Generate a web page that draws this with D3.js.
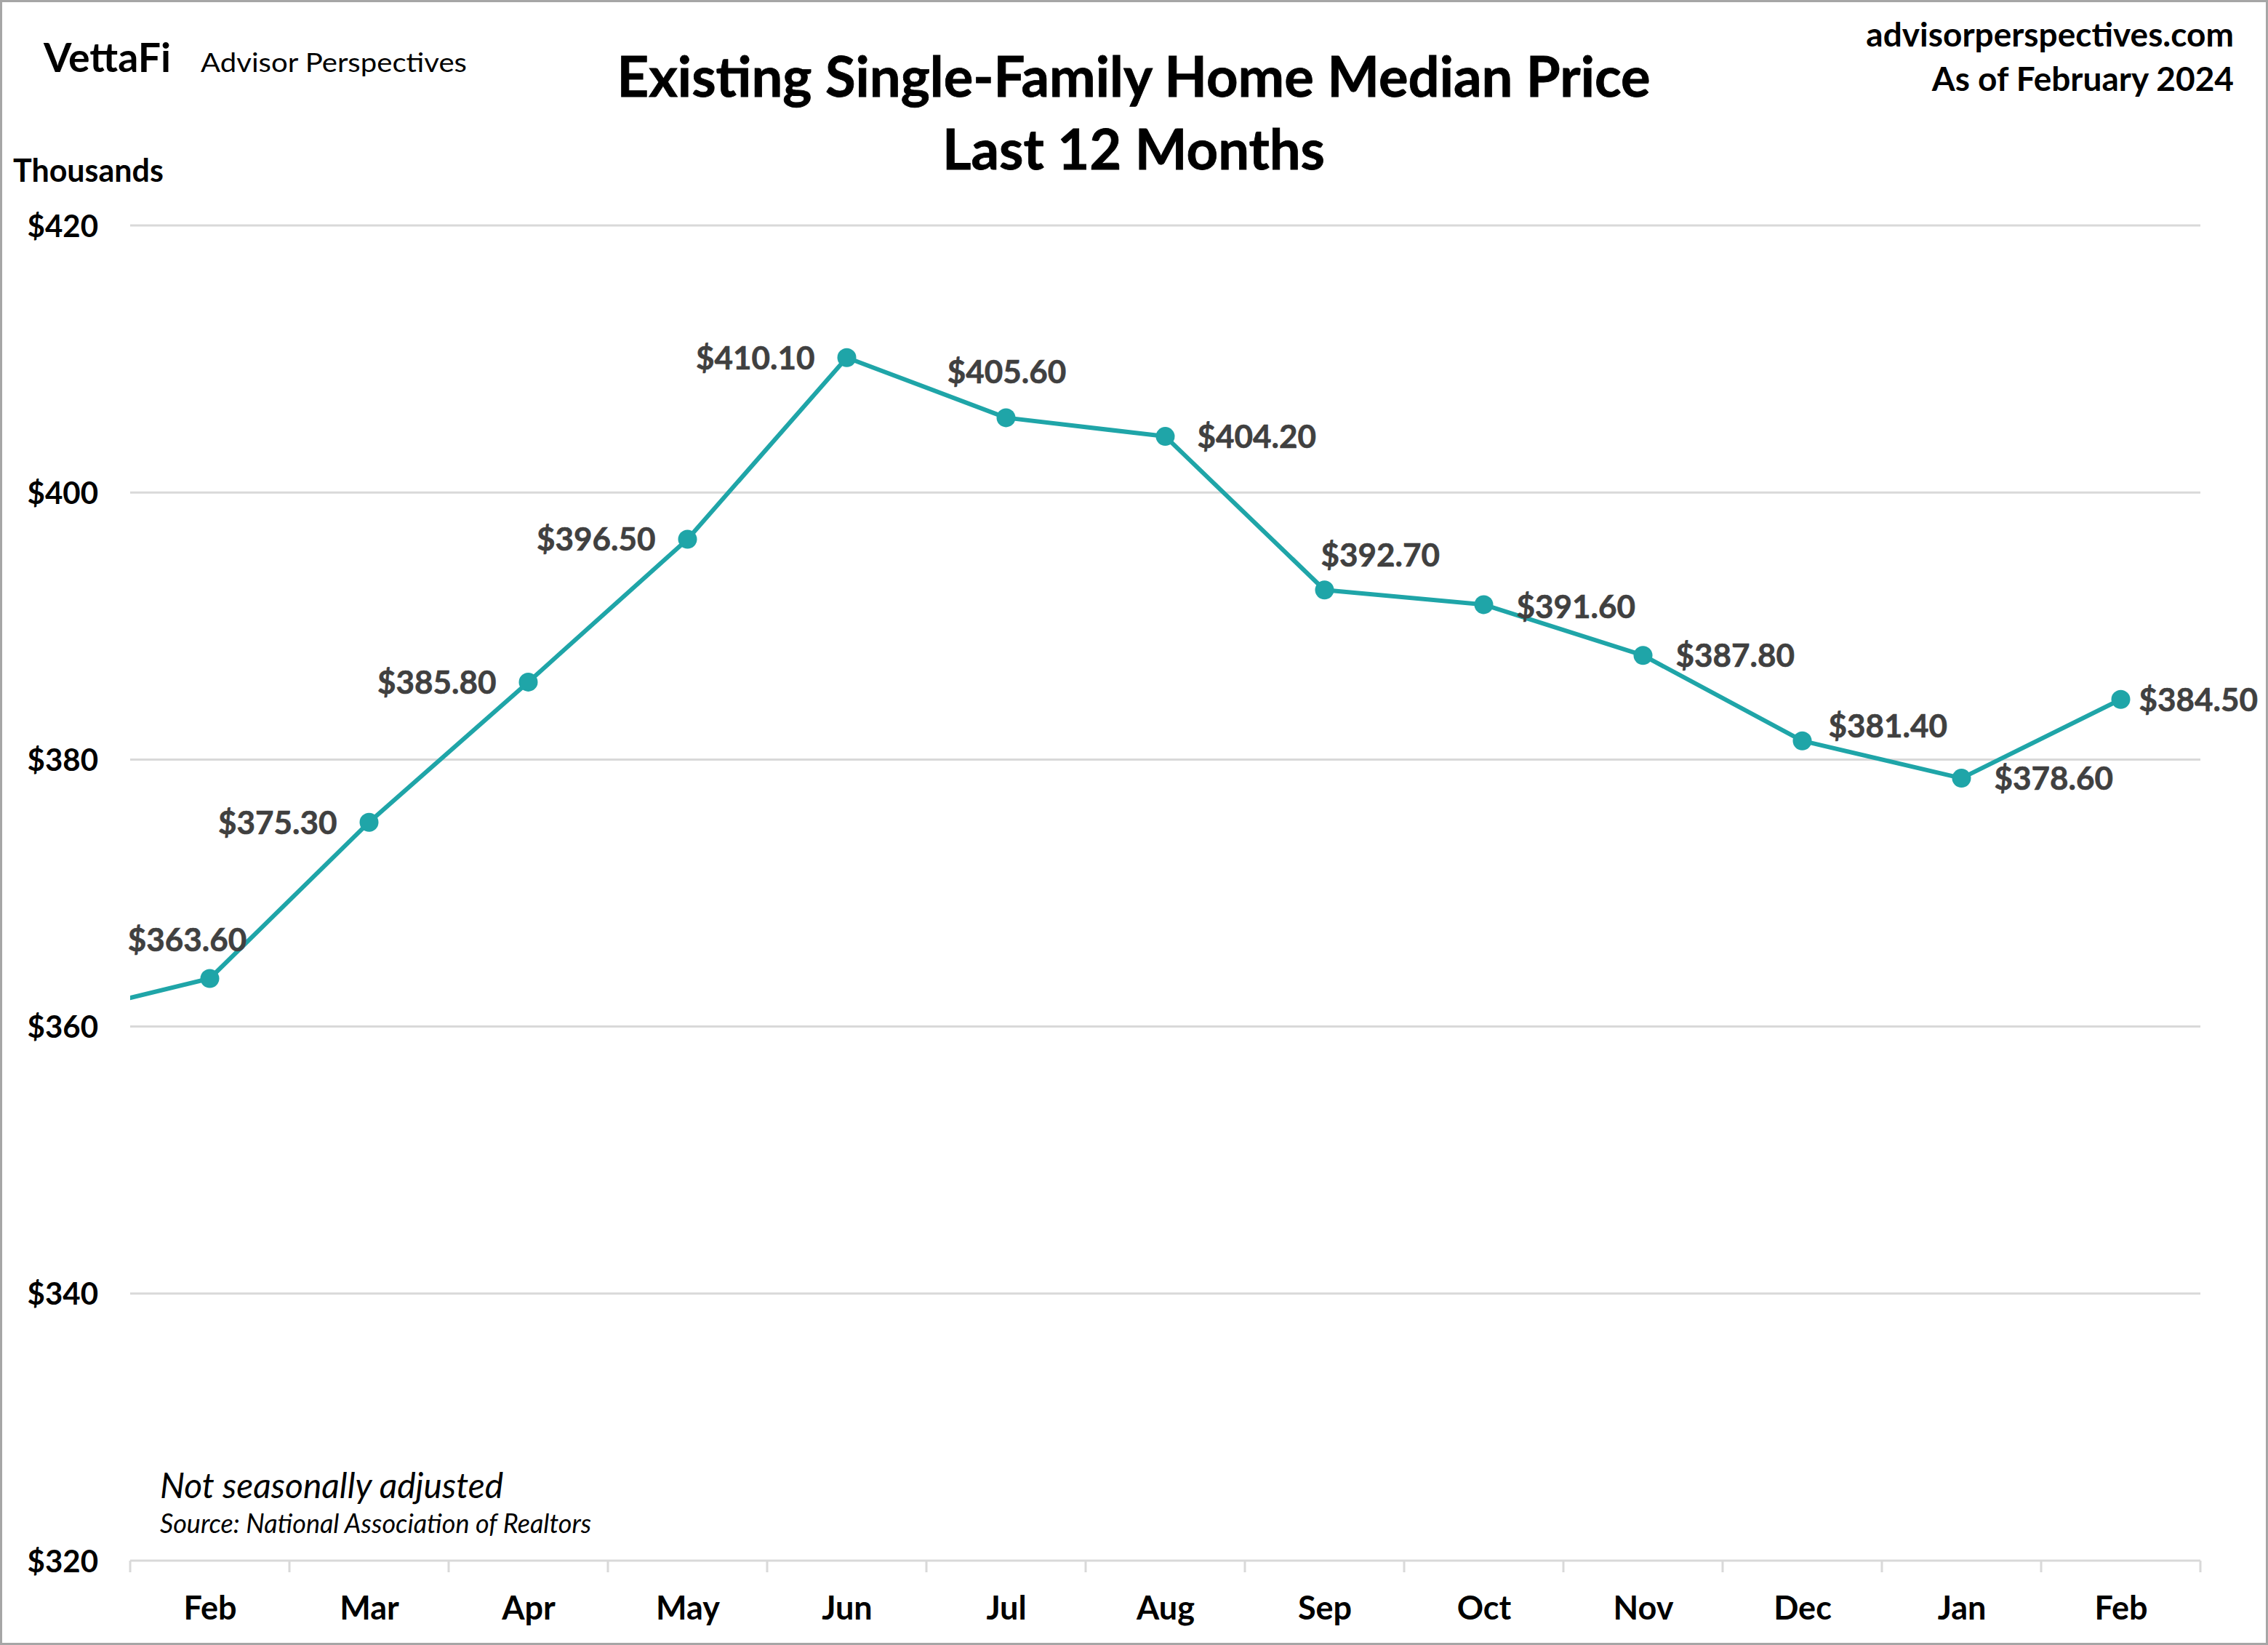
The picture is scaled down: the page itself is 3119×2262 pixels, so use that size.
<!DOCTYPE html>
<html>
<head>
<meta charset="utf-8">
<script src="https://cdn.jsdelivr.net/npm/d3@7"></script>
<style>
  html, body { margin: 0; padding: 0; background: #fff; }
  svg { display: block; }
  text { font-family: Lato, "Open Sans", sans-serif; }
</style>
</head>
<body>
<svg id="chart" width="3119" height="2262"></svg>
<script>
// months shown on the axis (Feb 2023 .. Feb 2024)
const months = ["Feb", "Mar", "Apr", "May", "Jun", "Jul", "Aug", "Sep", "Oct", "Nov", "Dec", "Jan", "Feb"];
// median price, thousands of dollars
const prices = [363.6, 375.3, 385.8, 396.5, 410.1, 405.6, 404.2, 392.7, 391.6, 387.8, 381.4, 378.6, 384.5];
// Jan 2023, only the clipped stub of the line is visible
const priorPrice = 360.7;
const yTicks = [320, 340, 360, 380, 400, 420];

// where each value label sits relative to its dot
const labelPlace = [
  { anchor: "middle", dx: -31, dy: -53 },
  { anchor: "end", dx: -44, dy: 0 },
  { anchor: "end", dx: -44, dy: 0 },
  { anchor: "end", dx: -44, dy: 0 },
  { anchor: "end", dx: -44, dy: 0 },
  { anchor: "middle", dx: 1, dy: -63 },
  { anchor: "start", dx: 44, dy: 0 },
  { anchor: "start", dx: -5, dy: -48 },
  { anchor: "start", dx: 45, dy: 3 },
  { anchor: "start", dx: 45, dy: 0 },
  { anchor: "start", dx: 36, dy: -21 },
  { anchor: "start", dx: 45, dy: 0 },
  { anchor: "start", dx: 25, dy: 0 }
];

const W = 3119, H = 2262;
const plotL = 179, plotR = 3026, plotT = 310, plotB = 2146;
const teal = "#1fa5a8", grid = "#d9d9d9", labelGray = "#404040";

const svg = d3.select("#chart");

svg.append("rect").attr("width", W).attr("height", H).attr("fill", "#fff");

const x = d3.scaleLinear().domain([-0.5, months.length - 0.5]).range([plotL, plotR]);
const y = d3.scaleLinear().domain([320, 420]).range([plotB, plotT]);

// gridlines
svg.append("g").selectAll("line").data(yTicks).join("line")
  .attr("x1", plotL).attr("x2", plotR)
  .attr("y1", d => y(d)).attr("y2", d => y(d))
  .attr("stroke", grid).attr("stroke-width", 3);

// category boundary ticks
svg.append("g").selectAll("line").data(d3.range(months.length + 1)).join("line")
  .attr("x1", d => x(d - 0.5)).attr("x2", d => x(d - 0.5))
  .attr("y1", plotB).attr("y2", plotB + 16)
  .attr("stroke", grid).attr("stroke-width", 3);

// y axis labels
const yAxis = svg.append("g").attr("transform", `translate(${plotL},0)`)
  .call(d3.axisLeft(y).tickValues(yTicks).tickSize(0).tickPadding(44).tickFormat(d => "$" + d));
yAxis.select(".domain").remove();
yAxis.selectAll("text")
  .attr("font-family", "Lato, sans-serif").attr("font-size", 42).attr("font-weight", 700)
  .attr("fill", "#000").attr("dy", "0.36em");

// x axis labels
const xAxis = svg.append("g").attr("transform", `translate(0,${plotB})`)
  .call(d3.axisBottom(x).tickValues(d3.range(months.length)).tickSize(0).tickPadding(0)
    .tickFormat(i => months[i]));
xAxis.select(".domain").remove();
xAxis.selectAll("text")
  .attr("font-family", "Lato, sans-serif").attr("font-size", 45).attr("font-weight", 700)
  .attr("fill", "#000").attr("y", 81).attr("dy", 0);

// line, clipped to the plot area
svg.append("clipPath").attr("id", "plotClip")
  .append("rect").attr("x", plotL).attr("y", 0).attr("width", plotR - plotL).attr("height", H);

const series = [{ i: -1, v: priorPrice }].concat(prices.map((v, i) => ({ i, v })));
const line = d3.line().x(d => x(d.i)).y(d => y(d.v));

svg.append("path").datum(series)
  .attr("clip-path", "url(#plotClip)")
  .attr("d", line)
  .attr("fill", "none").attr("stroke", teal).attr("stroke-width", 6)
  .attr("stroke-linejoin", "round");

svg.append("g").selectAll("circle").data(prices).join("circle")
  .attr("cx", (d, i) => x(i)).attr("cy", d => y(d)).attr("r", 13)
  .attr("fill", teal);

// value labels
svg.append("g").selectAll("text").data(prices).join("text")
  .attr("x", (d, i) => x(i) + labelPlace[i].dx)
  .attr("y", (d, i) => y(d) + labelPlace[i].dy)
  .attr("dy", "0.36em")
  .attr("text-anchor", (d, i) => labelPlace[i].anchor)
  .attr("font-size", 44).attr("font-weight", 700).attr("fill", labelGray)
  .attr("stroke", labelGray).attr("stroke-width", 0.6)
  .text(d => "$" + d.toFixed(2));

// titles
const title = svg.append("g").attr("text-anchor", "middle").attr("font-weight", 700).attr("font-size", 76)
  .attr("stroke", "#000").attr("stroke-width", 0.8);
title.append("text").attr("x", 1559).attr("y", 133).text("Existing Single-Family Home Median Price");
title.append("text").attr("x", 1559).attr("y", 233).text("Last 12 Months");

// branding
svg.append("text").attr("x", 60).attr("y", 99)
  .attr("font-family", "Roboto, sans-serif").attr("font-weight", 700).attr("font-size", 56)
  .attr("textLength", 175).attr("lengthAdjust", "spacingAndGlyphs")
  .text("VettaFi");
svg.append("text").attr("x", 276).attr("y", 99)
  .attr("font-family", "Roboto, sans-serif").attr("font-size", 37)
  .attr("textLength", 366).attr("lengthAdjust", "spacingAndGlyphs")
  .text("Advisor Perspectives");

const corner = svg.append("g").attr("text-anchor", "end").attr("font-weight", 700).attr("font-size", 46);
corner.append("text").attr("x", 3072).attr("y", 64).text("advisorperspectives.com");
corner.append("text").attr("x", 3072).attr("y", 125).text("As of February 2024");

svg.append("text").attr("x", 18).attr("y", 250)
  .attr("font-weight", 700).attr("font-size", 43).text("Thousands");

// notes
svg.append("text").attr("x", 220).attr("y", 2060)
  .attr("font-style", "italic").attr("font-size", 48).text("Not seasonally adjusted");
svg.append("text").attr("x", 220).attr("y", 2108)
  .attr("font-style", "italic").attr("font-size", 36).text("Source: National Association of Realtors");

// outer frame
svg.append("rect").attr("x", 1.5).attr("y", 1.5).attr("width", W - 3).attr("height", H - 3)
  .attr("fill", "none").attr("stroke", "#a6a6a6").attr("stroke-width", 3);
</script>
</body>
</html>
